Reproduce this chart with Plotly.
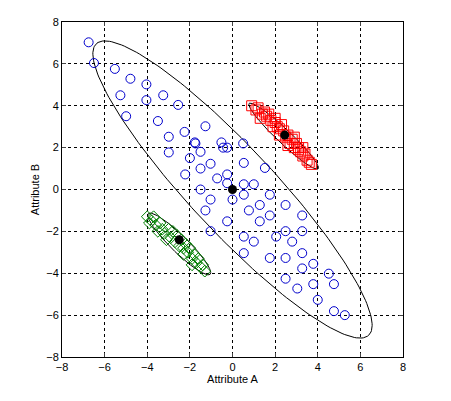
import numpy as np
import plotly.graph_objects as go

blue_x = [-6.75,-6.5,-5.52,-4.79,-4.04,-5.26,-4.04,-3.25,-2.55,-4.99,-3.5,-1.27,-2.99,-2.25,-0.52,-1.77,-2.99,
          -1.74,-0.44,-0.25,0.5,-2.0,-1.5,-1.5,-1.03,-2.22,-0.72,-0.25,-0.25,0.53,0.53,1.0,1.52,-1.5,0.53,1.75,-1.03,0.0,
          -1.27,0.77,1.28,2.49,-0.25,1.28,1.75,3.27,-1.03,0.53,1.0,2.05,2.49,3.27,2.8,0.53,1.75,2.49,3.27,3.79,3.27,2.49,
          3.04,3.79,4.52,4.76,4.0,4.76,5.27]
blue_y = [7.03,6.04,5.76,5.29,5.02,4.5,4.27,4.5,4.04,3.5,3.27,3.02,2.52,2.75,2.25,2.25,1.77,
          2.2,2.0,2.0,2.2,1.5,1.8,1.0,1.23,0.72,0.53,0.72,0.3,1.27,0.25,0.25,1.03,0.0,-0.25,-0.25,-0.48,-0.48,
          -1.0,-1.0,-0.74,-0.74,-1.52,-1.52,-1.24,-1.24,-1.99,-2.25,-2.49,-2.25,-1.99,-1.99,-2.49,-3.04,-3.27,-3.27,-3.04,-3.55,-3.77,-4.26,
          -4.73,-4.52,-4.02,-4.52,-5.27,-5.81,-6.0]

red_x = [0.9,1.1,1.2,1.4,1.5,1.6,1.8,1.7,2.0,2.1,2.0,2.2,2.3,2.4,2.5,2.6,2.7,2.8,2.9,3.0,3.1,3.2,3.3,3.4,3.5,3.6,3.7,2.2,1.3,2.9,3.1,3.3,2.6,1.9]
red_y = [4.0,3.8,3.9,3.6,3.7,3.5,3.3,3.6,3.2,3.0,3.4,2.9,3.1,2.8,2.5,2.6,2.2,2.4,2.0,2.2,1.9,1.8,1.6,1.7,1.4,1.3,1.2,2.6,3.4,2.5,2.0,2.0,2.1,3.0]

green_x = [-4.0,-3.8,-3.7,-3.6,-3.4,-3.3,-3.2,-3.0,-2.9,-2.8,-2.7,-2.6,-2.5,-2.4,-2.3,-2.2,-2.1,-2.0,-1.9,-1.8,-1.7,-1.6,-1.5,-1.4,-1.3,-3.5,-3.1,-2.3,-1.9,-3.9]
green_y = [-1.3,-1.5,-1.3,-1.7,-1.6,-1.9,-2.1,-1.9,-2.3,-2.0,-2.5,-2.2,-2.7,-2.4,-2.8,-2.6,-3.0,-2.8,-3.3,-3.1,-3.5,-3.3,-3.7,-3.6,-3.9,-2.0,-2.4,-3.1,-3.6,-1.6]

cent_x = [0.0, 2.45, -2.5]
cent_y = [0.0, 2.6, -2.4]

# ellipses: center x, center y, semi-major, semi-minor, angle (deg)
ell_cx = [0.0, 2.4, -2.5]
ell_cy = [0.0, 2.55, -2.6]
ell_a = [9.45, 2.25, 2.05]
ell_b = [2.0, 0.33, 0.4]
ell_ang = [-47.5, -44, -45]

ticks = [-8, -6, -4, -2, 0, 2, 4, 6, 8]

fig = go.Figure()
t = np.linspace(0, 2*np.pi, 200)
for cx, cy, a, b, ang in zip(ell_cx, ell_cy, ell_a, ell_b, ell_ang):
    th = np.deg2rad(ang)
    ex = cx + a*np.cos(t)*np.cos(th) - b*np.sin(t)*np.sin(th)
    ey = cy + a*np.cos(t)*np.sin(th) + b*np.sin(t)*np.cos(th)
    fig.add_trace(go.Scatter(x=ex, y=ey, mode='lines', line=dict(color='black', width=1), hoverinfo='skip'))

fig.add_trace(go.Scatter(x=blue_x, y=blue_y, mode='markers',
                         marker=dict(symbol='circle-open', size=9, color='#0000cc', line=dict(width=1))))
fig.add_trace(go.Scatter(x=red_x, y=red_y, mode='markers',
                         marker=dict(symbol='square-open', size=10, color='red', line=dict(width=1))))
fig.add_trace(go.Scatter(x=green_x, y=green_y, mode='markers',
                         marker=dict(symbol='diamond-open', size=9, color='green', line=dict(width=1))))
fig.add_trace(go.Scatter(x=cent_x, y=cent_y, mode='markers',
                         marker=dict(symbol='circle', size=9, color='black')))

axis = dict(range=[-8, 8], tickvals=ticks, showgrid=True, gridcolor='black', griddash='3px,3px', gridwidth=1,
            zeroline=False, showline=True, linecolor='black', mirror='ticks', ticks='inside', ticklen=4,
            tickfont=dict(family='Arial, Liberation Sans', size=11, color='black'))
tf = dict(family='Arial, Liberation Sans', size=11, color='black')
fig.update_layout(width=451, height=401, margin=dict(l=54, r=56, t=8, b=52),
                  paper_bgcolor='white', plot_bgcolor='white', showlegend=False,
                  xaxis=dict(axis, title=dict(text='Attribute A', font=tf, standoff=2)),
                  yaxis=dict(axis, title=dict(text='Attribute B', font=tf, standoff=4)))
fig.write_html("out.html")
